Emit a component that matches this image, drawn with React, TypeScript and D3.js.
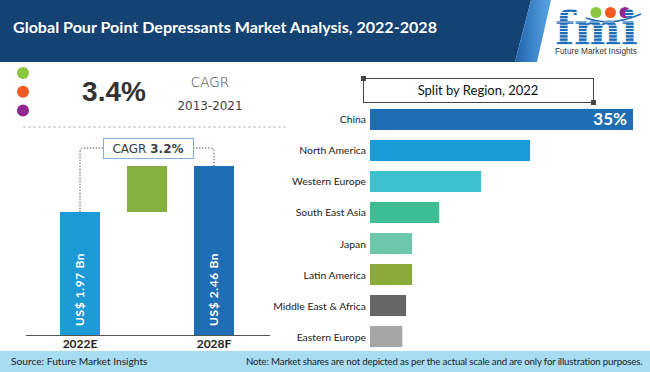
import * as d3 from "d3";

const TITLE = "Global Pour Point Depressants Market Analysis, 2022-2028";
const HIST_CAGR = "3.4%";
const HIST_PERIOD = "2013-2021";
const FORECAST_CAGR = "3.2%";

const periods = ["2022E", "2028F"];
const marketValues = [1.97, 2.46];
const valueLabels = ["US$ 1.97 Bn", "US$ 2.46 Bn"];

const regions = [
  "China",
  "North America",
  "Western Europe",
  "South East Asia",
  "Japan",
  "Latin America",
  "Middle East & Africa",
  "Eastern Europe",
];
const regionShares = [35, 21.3, 14.8, 9.2, 5.6, 5.6, 4.8, 4.3];
const regionColors = ["#1f6db5", "#1a9cd8", "#3ec1cf", "#3dbd93", "#6dc8ab", "#8aab3a", "#666666", "#a6a6a6"];

const dotColors = ["#8cc63f", "#f15a24", "#92278f"];

const SOURCE = "Source: Future Market Insights";
const NOTE = "Note: Market shares are not depicted as per the actual scale and are only for illustration purposes.";

const W = 650;
const H = 372;

export default function App() {
  // waterfall scales (left panel)
  const wx = d3.scaleBand<string>().domain(["2022E", "delta", "2028F"]).range([33, 261]).padding(0.403);
  const wy = d3.scaleLinear().domain([0.66, 2.46]).range([335, 166]);
  const bw = wx.bandwidth();
  const c1 = (wx("2022E") ?? 0) + bw / 2;
  const c2 = (wx("2028F") ?? 0) + bw / 2;
  const top1 = wy(marketValues[0]);
  const top2 = wy(marketValues[1]);

  // region bars (right panel)
  const ry = d3.scaleBand<string>().domain(regions).range([99, 357]).padding(0.32);
  const rx = d3.scaleLinear().domain([0, 35]).range([370, 633]);

  const font = "Lato, 'Open Sans', sans-serif";

  return (
    <svg width={W} height={H} style={{ position: "absolute", left: 0, top: 0, background: "#fff" }} fontFamily={font}>
      <defs>
        <linearGradient id="stripe" x1="0" x2="1" y1="0" y2="0">
          <stop offset="0" stopColor="#1f63ad" />
          <stop offset="1" stopColor="#5aa6e6" />
        </linearGradient>
        <pattern id="lines" width="4" height="3.2" patternUnits="userSpaceOnUse">
          <rect width="4" height="3.2" fill="#fff" />
          <rect width="4" height="2.4" fill="#1f6db5" />
        </pattern>
      </defs>

      {/* header */}
      <polygon points="0,0 531,0 515,62 0,62" fill="#134273" />
      <polygon points="531,0 551,0 537,62 515,62" fill="url(#stripe)" />
      <text x={13} y={33} fill="#fff" fontSize={15.5} fontWeight={700} textLength={424} lengthAdjust="spacingAndGlyphs">
        {TITLE}
      </text>

      {/* logo */}
      <path d="M586,18 Q612,27 641,14" fill="none" stroke="#1f6db5" strokeWidth={1.4} />
      {dotColors.map((c, i) => (
        <circle key={c} cx={596 + i * 14.5} cy={12.5} r={5.5} fill={c} />
      ))}
      <text x={555} y={45} fontFamily="'DejaVu Serif', serif" fontWeight={700} fontSize={46} fill="url(#lines)" textLength={83} lengthAdjust="spacingAndGlyphs">
        fmi
      </text>
      <text x={555} y={54} fontFamily="'Liberation Sans', Arial, sans-serif" fontSize={8.6} fill="#333" textLength={82} lengthAdjust="spacingAndGlyphs">
        Future Market Insights
      </text>

      {/* left panel: historic CAGR */}
      {dotColors.map((c, i) => (
        <circle key={c} cx={23} cy={73 + i * 18.7} r={6} fill={c} />
      ))}
      <text x={114} y={101} textAnchor="middle" fontFamily="'Liberation Sans', Arial, sans-serif" fontWeight={700} fontSize={28} fill="#333">
        {HIST_CAGR}
      </text>
      <text x={210} y={87} textAnchor="middle" fontFamily="'DejaVu Sans', sans-serif" fontWeight={300} fontSize={13.5} fill="#404040">
        CAGR
      </text>
      <text x={210} y={110} textAnchor="middle" fontFamily="'DejaVu Sans', sans-serif" fontSize={13} fill="#404040" textLength={65} lengthAdjust="spacingAndGlyphs">
        {HIST_PERIOD}
      </text>
      <line x1={23} x2={287} y1={127} y2={127} stroke="#bdbdbd" strokeDasharray="3,2" />

      {/* waterfall */}
      <path
        d={`M${c1},${top1} V${152} Q${c1},${148} ${c1 + 4},${148} H103`}
        fill="none"
        stroke="#555"
        strokeDasharray="1.5,1.5"
      />
      <path
        d={`M193,148 H${c2 - 4} Q${c2},${148} ${c2},${152} V${top2}`}
        fill="none"
        stroke="#555"
        strokeDasharray="1.5,1.5"
      />
      <rect x={103.5} y={138.5} width={90} height={20} fill="#fff" stroke="#7fb0de" />
      <text x={148} y={153} textAnchor="middle" fontFamily="'DejaVu Sans', sans-serif" fontSize={12} fill="#404040">
        CAGR <tspan fontWeight={700}>{FORECAST_CAGR}</tspan>
      </text>

      <rect x={wx("2022E")} y={top1} width={bw} height={wy(0.66) - top1} fill="#1c9ad6" />
      <rect x={wx("delta")} y={top2} width={bw} height={top1 - top2} fill="#84b041" />
      <rect x={wx("2028F")} y={top2} width={bw} height={wy(0.66) - top2} fill="#1f6db5" />
      <line x1={26} x2={270} y1={335.5} y2={335.5} stroke="#555" />

      {periods.map((p, i) => {
        const cx = (wx(p) ?? 0) + bw / 2;
        return (
          <g key={p}>
            <text x={cx} y={348} textAnchor="middle" fontSize={12} fontWeight={700} fill="#222">
              {p}
            </text>
            <text
              transform={`translate(${cx + 4},326) rotate(-90)`}
              fontSize={12}
              fontWeight={700}
              fill="#fff"
              letterSpacing={0.6}
            >
              {valueLabels[i]}
            </text>
          </g>
        );
      })}

      {/* right panel: split by region */}
      <rect x={363.5} y={78.5} width={230} height={24} fill="#fff" stroke="#444" />
      <rect x={361} y={76} width={5} height={5} fill="#444" />
      <rect x={591} y={100} width={5} height={5} fill="#444" />
      <text x={478} y={95} textAnchor="middle" fontSize={13} fill="#111">
        Split by Region, 2022
      </text>

      {regions.map((r, i) => {
        const y = ry(r) ?? 0;
        return (
          <g key={r}>
            <rect x={rx(0)} y={y} width={rx(regionShares[i]) - rx(0)} height={ry.bandwidth()} fill={regionColors[i]} />
            <text x={366} y={y + ry.bandwidth() / 2 + 4} textAnchor="end" fontSize={10.4} fill="#222">
              {r}
            </text>
          </g>
        );
      })}
      <text x={627} y={(ry("China") ?? 0) + ry.bandwidth() / 2 + 6} textAnchor="end" fontSize={17} fontWeight={700} fill="#fff">
        {regionShares[0]}%
      </text>

      {/* footer */}
      <rect x={0} y={351} width={W} height={H - 351} fill="#a8dcf3" />
      <text x={11} y={365} fontSize={10.2} fill="#222">
        {SOURCE}
      </text>
      <text x={246} y={365} fontSize={9.7} fill="#222" letterSpacing={-0.17}>
        {NOTE}
      </text>
    </svg>
  );
}
